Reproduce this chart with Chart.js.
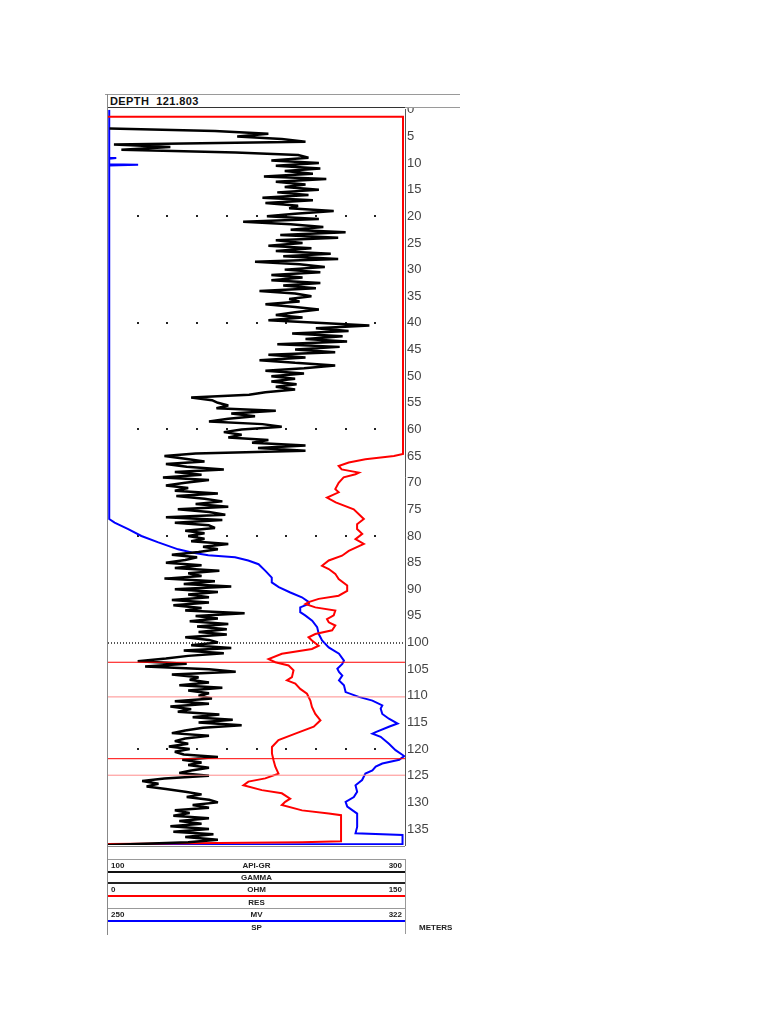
<!DOCTYPE html>
<html><head><meta charset="utf-8">
<script src="https://cdn.jsdelivr.net/npm/chart.js@4"></script>
<style>
body{margin:0;background:#fff;width:768px;height:1024px;position:relative;overflow:hidden;font-family:"Liberation Sans",Arial,sans-serif;}
#wrap{position:absolute;left:100px;top:100px;width:370px;height:760px;}
.ln{position:absolute;}
.hdr{position:absolute;left:108px;top:95px;width:352px;height:13px;background:#fff;z-index:2;font-size:11px;font-weight:bold;letter-spacing:0.4px;line-height:13px;color:#111;}
.hdr span{position:absolute;left:2px;top:0;white-space:pre;}
.row{position:absolute;left:108px;width:297px;height:11px;font-size:8px;font-weight:bold;line-height:11px;color:#222;}
.row .l{position:absolute;left:3px;}
.row .c{position:absolute;left:0;width:100%;text-align:center;}
.row .r{position:absolute;right:3px;}
</style>
</head><body>
<div id="wrap"><canvas id="c" width="370" height="760" style="width:370px;height:760px"></canvas></div>

<div class="hdr"><span>DEPTH  121.803</span></div>
<div class="ln" style="left:105px;top:94px;width:355px;height:1px;background:#9a9a9a;z-index:3"></div>
<div class="ln" style="left:108px;top:107px;width:297px;height:1px;background:#333;z-index:3"></div>
<div class="ln" style="left:405px;top:107px;width:55px;height:1px;background:#9a9a9a;z-index:3"></div>
<div class="ln" style="left:107px;top:94px;width:1px;height:841px;background:#888;z-index:3"></div>
<div class="ln" style="left:108px;top:846px;width:297px;height:1px;background:#888;"></div>

<div class="ln" style="left:108px;top:859px;width:297px;height:1px;background:#999;"></div>
<div class="ln" style="left:405px;top:859px;width:1px;height:75px;background:#999;"></div>
<div class="row" style="top:860px"><span class="l">100</span><span class="c">API-GR</span><span class="r">300</span></div>
<div class="ln" style="left:108px;top:871px;width:297px;height:2px;background:#111;"></div>
<div class="row" style="top:872px"><span class="c">GAMMA</span></div>
<div class="ln" style="left:108px;top:882px;width:297px;height:2px;background:#222;"></div>
<div class="row" style="top:884px"><span class="l">0</span><span class="c">OHM</span><span class="r">150</span></div>
<div class="ln" style="left:108px;top:895px;width:297px;height:2px;background:#ff0000;"></div>
<div class="row" style="top:897px"><span class="c">RES</span></div>
<div class="ln" style="left:108px;top:908px;width:297px;height:1px;background:#999;"></div>
<div class="row" style="top:909px"><span class="l">250</span><span class="c">MV</span><span class="r">322</span></div>
<div class="ln" style="left:108px;top:920px;width:297px;height:2px;background:#0000ff;"></div>
<div class="row" style="top:922px"><span class="c">SP</span></div>
<div class="row" style="top:922px;left:419px;width:40px;"><span class="l" style="left:0">METERS</span></div>

<script>
// ---- data ----
const GR_TOP = 3.5;      // depth of first gamma sample (m)
const GR_STEP = 0.5;     // sample interval (m)
const GR_VALUES = [
 101,172,208,187,217,233,104,142,109,186,228,235,210,242,213,243,219,238,205,247,
 213,233,219,242,214,235,204,238,206,228,222,252,226,207,242,191,223,245,223,260,
 216,255,213,231,208,237,213,250,218,255,199,229,246,219,243,210,231,210,243,218,
 240,202,226,237,222,229,206,226,242,226,213,231,208,244,276,240,262,224,258,233,
 261,214,256,226,253,208,233,202,226,253,232,206,232,210,226,210,227,213,226,206,
 195,156,170,174,181,173,213,183,199,181,168,204,217,190,178,190,181,208,197,233,
 201,233,159,138,152,165,139,153,178,145,163,137,168,152,139,154,145,174,146,165,
 177,159,181,147,168,179,139,177,145,168,172,152,165,154,165,156,181,164,174,161,
 143,160,152,139,163,145,175,154,163,138,172,151,183,145,174,154,168,143,168,144,
 163,152,192,159,174,155,181,160,180,161,180,152,168,174,156,183,151,178,154,139,
 120,153,125,168,186,143,161,155,168,148,177,154,168,161,170,145,168,142,156,147,
 175,157,184,161,190,164,152,143,168,152,145,154,141,155,145,151,174,150,163,154,
 168,156,148,168,138,123,134,126,139,152,163,153,168,174,157,168,145,155,144,168,
 148,163,142,168,144,171,152,174,154,100
];

const RES_DEPTH = [1.3,1.3,64.6,65.0,65.6,66.2,66.85,67.5,68.1,68.4,69.0,70.0,71.2,71.8,72.8,73.7,75.0,76.2,76.8,77.8,
 78.7,79.6,80.6,81.5,82.8,83.7,84.6,85.6,86.2,87.1,88.1,89.3,90.3,91.2,91.8,92.4,92.75,93.4,94.0,94.9,
 95.6,96.2,96.8,97.7,98.4,99.0,99.6,100.6,101.2,102.1,103.1,103.7,104.3,105.2,106.5,107.1,107.7,108.7,109.6,110.9,
 112.1,113.4,114.6,115.8,117.1,118.3,119.6,120.8,122.1,123.3,124.6,125.5,126.1,126.8,127.7,128.3,129.3,129.9,130.5,131.5,
 132.1,132.4,137.3,137.5,137.8];
const RES_VALUE = [0,149,149,144.4,130,121.6,116.5,118,126.7,125,119,116.5,114.8,116.5,110.6,115,124.1,127.5,129.2,125.8,
 125.8,128.4,125,129.2,121.6,118.2,111.5,108.1,111.5,114.8,116.5,120.8,120.8,116.5,106.4,101.3,99.7,104.7,114.8,114,
 110.6,111.5,114.8,113.2,104.7,101.3,103,106.4,103,87.8,81.1,84.5,91.2,93.7,92.9,90.4,94.6,97.1,100.5,102.2,
 103,104.7,107.3,103.9,94.6,86.1,82.8,82.8,83.6,84.5,86.1,79.4,70.9,68.4,77.7,87.8,92,89.5,87.8,98,
 111.5,117.7,117.7,98,0];

const SP_DEPTH = [0,9.0,9.05,9.2,10.2,10.3,10.45,76.8,77.5,78.7,80.0,81.2,82.5,83.1,83.6,84.0,84.6,85.3,86.5,87.8,
 88.7,89.6,90.6,91.5,92.4,92.75,93.4,94.3,94.9,95.9,97.1,98.4,99.6,100.9,102.1,103.4,104.0,104.9,105.5,106.2,
 107.1,108.0,109.3,110.2,110.9,111.8,112.4,113.4,114.3,115.2,115.8,116.8,117.1,117.7,119.0,120.2,121.3,122.0,122.7,123.3,
 124.0,124.6,125.8,126.8,128.0,129.0,129.9,130.8,132.1,133.3,134.6,135.8,136.1,137.8,138.0];
const SP_VALUE = [250.3,250.3,252,250.3,250.3,257.3,250.3,250.3,251.6,254.9,258.1,262.2,267,270.3,274.3,280.8,284,286.5,288.1,289.7,
 289.7,291.4,294.2,297,298.7,298.7,296.6,296.6,297.8,299.5,300.7,301.1,301.9,303.5,306,307.2,306.8,305.6,306,306.8,
 306,307.2,307.6,310.8,314.1,316.5,316.1,316.5,318.1,320.2,318.1,314.9,314.1,316.1,318.1,319.7,321.8,320.6,316.5,314.9,
 314.1,312.4,311.6,310,310.4,309.6,307.6,308,310.4,310.4,310.4,310,321.4,321.4,250];

const MARKER_DEPTHS = [103.7, 110.2, 121.8, 124.9];
const MARKER_COLORS = ['#ff0000', '#ff8c8c', '#ff0000', '#ff8c8c'];
const DOT_ROWS = [20, 40, 60, 80, 120];
const DOTTED_DEPTH = 100;
const GR_GRID = [120, 140, 160, 180, 200, 220, 240, 260, 280];
const DEPTH_MIN = 0, DEPTH_MAX = 138, DEPTH_STEP = 5;

// ---- build ----
const grPts = GR_VALUES.map((v, i) => ({x: v, y: GR_TOP + i * GR_STEP}));
const resPts = RES_DEPTH.map((d, i) => ({x: RES_VALUE[i], y: d}));
const spPts = SP_DEPTH.map((d, i) => ({x: SP_VALUE[i], y: d}));

const datasets = [];
MARKER_DEPTHS.forEach((d, i) => datasets.push({
  data: [{x: 100, y: d}, {x: 300, y: d}], xAxisID: 'xGR', yAxisID: 'y',
  showLine: true, borderColor: MARKER_COLORS[i], borderWidth: 1, pointRadius: 0
}));
datasets.push({data: grPts, xAxisID: 'xGR', yAxisID: 'y', showLine: true,
  borderColor: '#000', borderWidth: 2.5, pointRadius: 0, borderJoinStyle: 'bevel'});
datasets.push({data: resPts, xAxisID: 'xRES', yAxisID: 'y', showLine: true,
  borderColor: '#ff0000', borderWidth: 2, pointRadius: 0});
datasets.push({data: spPts, xAxisID: 'xSP', yAxisID: 'y', showLine: true,
  borderColor: '#0000ff', borderWidth: 2, pointRadius: 0});

const gridDots = {
  id: 'gridDots',
  beforeDatasetsDraw(chart) {
    const {ctx, chartArea: a} = chart;
    const xs = chart.scales.xGR, ys = chart.scales.y;
    ctx.save();
    ctx.fillStyle = '#222';
    DOT_ROWS.forEach(d => {
      const y = Math.round(ys.getPixelForValue(d));
      GR_GRID.forEach(g => {
        const x = Math.round(xs.getPixelForValue(g));
        ctx.fillRect(x - 1, y - 1, 2, 2);
      });
    });
    const y = Math.round(ys.getPixelForValue(DOTTED_DEPTH));
    ctx.strokeStyle = '#555';
    ctx.lineWidth = 2;
    ctx.setLineDash([1, 2]);
    ctx.beginPath();
    ctx.moveTo(a.left, y);
    ctx.lineTo(a.right, y);
    ctx.stroke();
    ctx.restore();
  }
};

new Chart(document.getElementById('c'), {
  type: 'scatter',
  data: {datasets},
  plugins: [gridDots],
  options: {
    responsive: false, animation: false,
    layout: {padding: {left: 8, top: 8, bottom: 15, right: 0}},
    plugins: {legend: {display: false}, tooltip: {enabled: false}},
    scales: {
      xGR: {type: 'linear', axis: 'x', min: 100, max: 300, display: false},
      xRES: {type: 'linear', axis: 'x', min: 0, max: 150, display: false},
      xSP: {type: 'linear', axis: 'x', min: 250, max: 322, display: false},
      y: {
        type: 'linear', position: 'right', reverse: true, min: DEPTH_MIN, max: DEPTH_MAX,
        afterFit(s) { s.width = 65; },
        afterBuildTicks(s) { s.ticks = s.ticks.filter(t => t.value % DEPTH_STEP === 0); },
        grid: {display: false, drawTicks: false},
        border: {display: true, color: '#555', width: 1},
        ticks: {stepSize: DEPTH_STEP, padding: 2, color: '#444', autoSkip: false,
          font: {size: 13, family: 'Liberation Sans'}}
      }
    }
  }
});
</script>
</body></html>
